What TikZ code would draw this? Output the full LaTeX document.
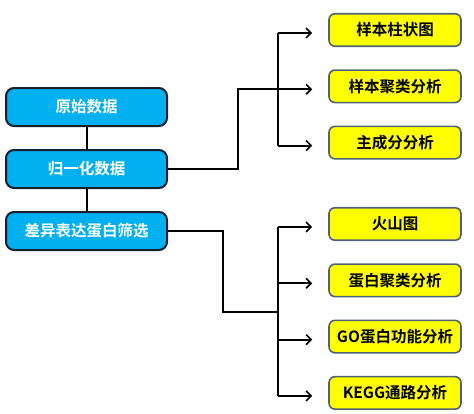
\documentclass[tikz,border=0pt]{standalone}
\usepackage{fontspec}
\newfontfamily\cjk[BoldFont={* Bold}]{Noto Sans CJK SC}
\usetikzlibrary{positioning,arrows.meta}
\definecolor{boxblue}{HTML}{00B0F0}
\definecolor{boxyellow}{HTML}{FFFF00}
\definecolor{blueline}{HTML}{16202E}
\definecolor{yellowline}{HTML}{4F6276}
\begin{document}
\begin{tikzpicture}[x=1pt,y=-1pt,
	databox/.style={draw=blueline,line width=2pt,fill=boxblue,rounded corners=8pt,
		minimum width=161pt,minimum height=38pt,inner sep=0pt,text=white,
		font=\cjk\bfseries\fontsize{15.5}{18}\selectfont},
	resultbox/.style={draw=yellowline,line width=1.6pt,fill=boxyellow,rounded corners=6pt,
		minimum width=132pt,minimum height=32.5pt,inner sep=0pt,text=black,
		font=\cjk\bfseries\fontsize{15.5}{18}\selectfont},
	link/.style={line width=2pt,draw=black},
	arrowlink/.style={link,-{Straight Barb[length=5pt,width=10pt,line width=1.6pt]},shorten >=16pt}]
	\useasboundingbox (0,0) rectangle (474,413);
	%% 左侧数据处理
	\node[databox] (gy1) at (86.5,107) {原始数据};
	\node[databox,below =22pt of gy1] (gy2) {归一化数据};
	\node[databox,below =22pt of gy2] (gy3) {差异表达蛋白筛选};
	%% 右侧 样本分析
	\node[resultbox] (yl1) at (395,30) {样本柱状图};
	\node[resultbox,below =22.2pt of yl1] (yl2) {样本聚类分析};
	\node[resultbox,below =22.2pt of yl2] (yl3) {主成分分析};
	%% 右侧 蛋白分析
	\node[resultbox] (yl4) at (395,224) {火山图};
	\node[resultbox,below =22.2pt of yl4] (yl5) {蛋白聚类分析};
	\node[resultbox,below =22.2pt of yl5] (yl6) {GO蛋白功能分析};
	\node[resultbox,below =22.2pt of yl6] (yl7) {KEGG通路分析};
	% 折点
	\coordinate (bendA) at (238,0);
	\coordinate (bendB) at (223,0);
	\coordinate (trunk) at (277.5,312);
	% 连线
	\draw[link] (gy1.south) -- (gy2.north);
	\draw[link] (gy2.south) -- (gy3.north);
	\draw[arrowlink] (gy2.east) -- (gy2.east -| bendA) |- ([yshift=-3pt]yl2.west);
	\draw[link] ([yshift=-3pt]yl1.west -| trunk) -- ([yshift=-3pt]yl3.west -| trunk);
	\foreach \n in {1,3}
		\draw[arrowlink] ([yshift=-3pt]yl\n.west -| trunk) -- ([yshift=-3pt]yl\n.west);
	\draw[link] (gy3.east) -- (gy3.east -| bendB) |- (trunk);
	\draw[link] ([yshift=-3pt]yl4.west -| trunk) -- ([yshift=-3pt]yl7.west -| trunk);
	\foreach \n in {4,...,7}
		\draw[arrowlink] ([yshift=-3pt]yl\n.west -| trunk) -- ([yshift=-3pt]yl\n.west);
\end{tikzpicture}
\end{document}
